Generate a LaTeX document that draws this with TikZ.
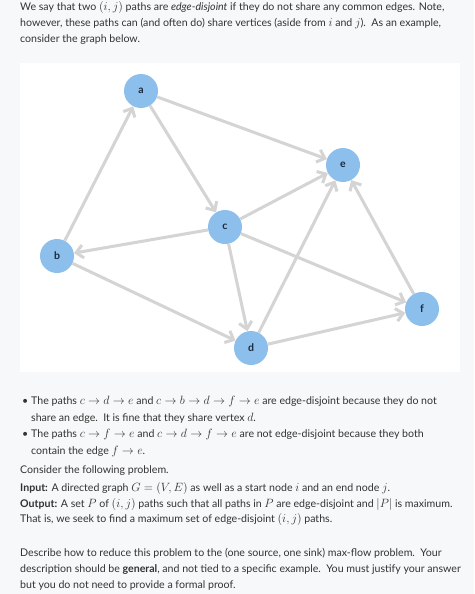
\documentclass[tikz,border=0pt]{standalone}
\usepackage{fontspec}
\setmainfont{Lato}
\usetikzlibrary{arrows.meta}

\definecolor{nodeblue}{HTML}{8CBFEC}
\definecolor{edgegray}{HTML}{D4D4D4}
\definecolor{pagegray}{HTML}{F7F8F9}
\definecolor{textgray}{HTML}{333333}
\definecolor{labelnavy}{HTML}{1B2A3D}

% math set a little larger than the text
\newcommand\mth[1]{{\fontsize{13}{13}\selectfont$#1$}}

\begin{document}
\begin{tikzpicture}[x=1pt,y=-1pt,
  vertex/.style={circle,fill=nodeblue,minimum size=34pt,inner sep=0pt,
    text=labelnavy,font=\fontsize{10.5}{10}\selectfont\bfseries},
  edge/.style={draw=edgegray,line width=3pt,
    -{Straight Barb[length=7pt,width=13pt,line width=3pt]}},
  line/.style={anchor=base west,inner sep=0pt,text=textgray,
    font=\fontsize{10.6}{12}\selectfont}]

 % page and panel
 \fill[pagegray] (0,0) rectangle (474,594);
 \useasboundingbox (0,0) rectangle (474,594);
 \fill[white] (20,63) rectangle (460,372);

 % text above
 \node[line] (l1) at (20,11) {We say that two \mth{(i,j)} paths are \emph{edge-disjoint} if they do not share any common edges. Note,};
 \node[line] (l2) at (20,27) {however, these paths can (and often do) share vertices (aside from \mth{i} and \mth{j}).\ \ As an example,};
 \node[line] (l3) at (20,43) {consider the graph below.};

 % vertices
 \node[vertex] (a) at (141,91) {a};
 \node[vertex] (e) at (343,165) {e};
 \node[vertex] (c) at (225,227) {c};
 \node[vertex] (b) at (57,256) {b};
 \node[vertex] (f) at (422,309) {f};
 \node[vertex] (d) at (251,348) {d};

 % edges
 \foreach \s/\t in {b/a,a/e,a/c,c/e,c/b,c/d,c/f,b/d,d/e,d/f,f/e}
   \draw[edge] (\s) -- (\t);

 % bullets
 \node[line] (p1) at (22,404) {\textbullet};
 \node[line] (l4) at (31,404) {The paths \mth{c\to d\to e} and \mth{c\to b\to d\to f\to e} are edge-disjoint because they do not};
 \node[line] (l5) at (31,421) {share an edge.\ \ It is fine that they share vertex \mth{d}.};
 \node[line] (p2) at (22,437) {\textbullet};
 \node[line] (l6) at (31,437) {The paths \mth{c\to f\to e} and \mth{c\to d\to f\to e} are not edge-disjoint because they both};
 \node[line] (l7) at (31,454) {contain the edge \mth{f\to e}.};

 % problem
 \node[line] (l8) at (20,473) {Consider the following problem.};
 \node[line] (l9) at (20,491) {\textbf{Input:} A directed graph \mth{G=(V,E)} as well as a start node \mth{i} and an end node \mth{j}.};
 \node[line] (l10) at (20,507) {\textbf{Output:} A set \mth{P} of \mth{(i,j)} paths such that all paths in \mth{P} are edge-disjoint and \mth{|P|} is maximum.};
 \node[line] (l11) at (20,522) {That is, we seek to find a maximum set of edge-disjoint \mth{(i,j)} paths.};

 \node[line] (l12) at (20,556) {Describe how to reduce this problem to the (one source, one sink) max-flow problem.\ \ Your};
 \node[line] (l13) at (20,572) {description should be \textbf{general}, and not tied to a specific example.\ \ You must justify your answer};
 \node[line] (l14) at (20,588) {but you do not need to provide a formal proof.};
\end{tikzpicture}
\end{document}
